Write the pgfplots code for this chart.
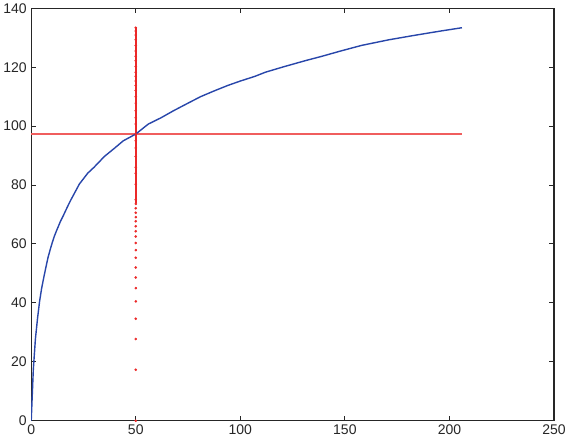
\documentclass[border=0pt]{standalone}
\usepackage{fontspec}
\setmainfont{Liberation Sans}
\usepackage{pgfplots}
\pgfplotsset{compat=1.18}
\usepackage{pgfplotstable}

\definecolor{mblue}{RGB}{40,70,170}
\definecolor{mred}{RGB}{235,40,40}

% cumulative curve
\pgfplotstableread{
x y
0 0
1 17.3
2 27.7
3 34.6
4 40.5
5 45.0
6 48.6
7 52.0
8 55.3
9 57.9
10 60.3
11 62.5
12 64.3
13 66.0
14 67.7
15 69.1
16 70.6
17 72.1
18 73.6
19 75.0
23 80.3
27 84.0
30 86.0
35 89.7
40 92.6
44 95.0
50 97.3
56 100.7
62 102.8
68 105.2
75 107.8
81 110.0
88 112.1
94 113.8
100 115.3
107 116.9
112 118.3
121 120.2
131 122.2
139 123.7
148 125.5
158 127.4
171 129.3
184 130.9
196 132.3
206 133.4
}\curve

\begin{document}
\begin{tikzpicture}
\begin{axis}[
    scale only axis,
    width=521bp, height=411bp,
    xmin=0, xmax=250, ymin=0, ymax=140,
    xtick distance=50, ytick distance=20,
    tick align=inside,
    major tick length=5bp,
    axis line style={line width=1.2bp, black!85},
    every tick/.style={line width=1bp, black!85},
    tick label style={font=\fontsize{14}{14}\selectfont, text=black!85},
    /pgf/number format/assume math mode=true,
    xticklabel style={yshift=-1bp},
    yticklabel style={xshift=-1bp},
]
% horizontal line of dots at the value at x=50
\addplot[mred!75, line width=2.1bp] coordinates {(0,97.2) (206,97.2)};
% vertical: all curve values placed at x=50
\addplot[mred, only marks, mark=*, mark size=1.1bp] table[x expr=50, y=y] {\curve};
\addplot[mred, line width=2.4bp] coordinates {(50,74) (50,133.6)};
% the curve
\addplot[mblue, line width=1.4bp] table[x=x, y=y] {\curve};
\end{axis}
\end{tikzpicture}
\end{document}
